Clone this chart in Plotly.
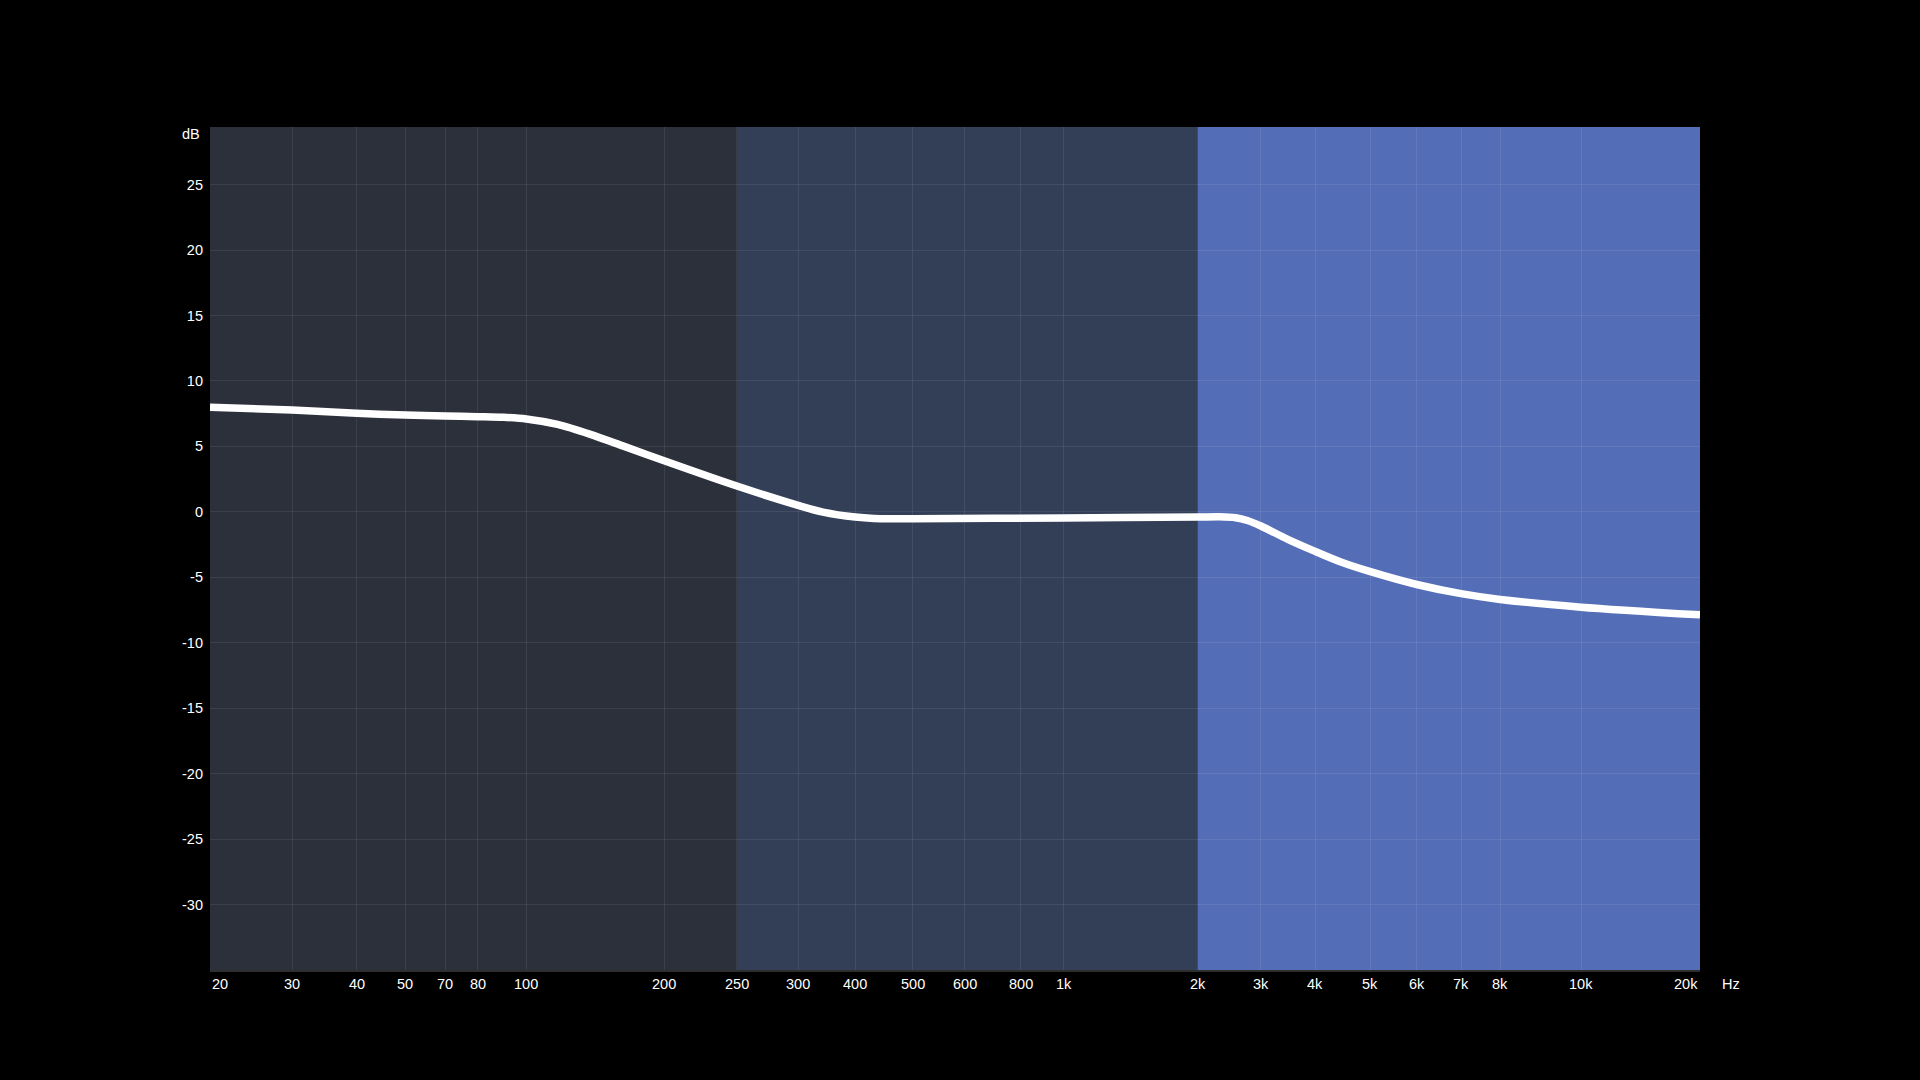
import numpy as np
import plotly.graph_objects as go

# frequency axis: tick frequencies, their labels and where the chart puts them
# (the source axis is a hand-tuned log-like scale, not a pure log scale)
TICK_FREQS = [20, 30, 40, 50, 70, 80, 100, 200, 250, 300, 400, 500, 600, 800,
              1000, 2000, 3000, 4000, 5000, 6000, 7000, 8000, 10000, 20000]
TICK_LABELS = ["20", "30", "40", "50", "70", "80", "100", "200", "250", "300",
               "400", "500", "600", "800", "1k", "2k", "3k", "4k", "5k", "6k",
               "7k", "8k", "10k", "20k"]
AXIS_POS = [0.0, 0.0551, 0.0984, 0.1311, 0.1579, 0.1798, 0.2123, 0.3048,
            0.3536, 0.3947, 0.4331, 0.4718, 0.5064, 0.5440, 0.5730, 0.6630,
            0.7053, 0.7417, 0.7788, 0.8099, 0.8396, 0.8659, 0.9202, 1.0]

# response curve
FREQ = [20, 30, 40, 50, 70, 80, 90, 100, 117, 138, 163, 200, 250,
        300, 340, 400, 430, 500, 1000, 2000, 2300, 2550, 2750, 3000, 3460,
        4000, 4450, 5000, 6000, 7000, 8000, 10000, 20000]
GAIN_DB = [8.0, 7.78, 7.53, 7.4, 7.32, 7.27, 7.22, 7.1, 6.68, 5.92, 5.02,
           3.9, 1.97, 0.5, -0.02, -0.4, -0.5, -0.52, -0.47, -0.4, -0.38,
           -0.45, -0.66, -1.08, -2.1, -3.02, -3.85, -4.57, -5.55, -6.25,
           -6.69, -7.28, -7.87]

# frequency bands (low / mid / high)
BAND_EDGES = [(20, 250), (250, 2000), (2000, 20000)]
BAND_COLORS = ["#2c303a", "#333f57", "#546db7"]

Y_TICKS = [25, 20, 15, 10, 5, 0, -5, -10, -15, -20, -25, -30]
Y_RANGE = [-35, 29.4]


def warp(freqs):
    return np.interp(np.log10(freqs), np.log10(TICK_FREQS), AXIS_POS)


fig = go.Figure()

for (f0, f1), color in zip(BAND_EDGES, BAND_COLORS):
    fig.add_shape(
        type="rect",
        x0=float(warp(f0)), x1=float(warp(f1)),
        y0=0, y1=1, yref="paper",
        fillcolor=color, line_width=0, layer="below",
    )

fig.add_trace(
    go.Scatter(
        x=warp(FREQ),
        y=GAIN_DB,
        mode="lines",
        line={"color": "white", "width": 7.5, "shape": "spline", "smoothing": 0.8},
        hoverinfo="skip",
        showlegend=False,
    )
)

label_font = {"family": "Liberation Sans, Arial, sans-serif", "size": 14.5, "color": "white"}

last = len(TICK_LABELS) - 1
for i, (pos, label) in enumerate(zip(warp(TICK_FREQS), TICK_LABELS)):
    anchor = "left" if i == 0 else ("right" if i == last else "center")
    fig.add_annotation(
        x=float(pos), y=0, yref="paper",
        text=label, showarrow=False,
        xanchor=anchor, yanchor="top", yshift=-4,
        font=label_font,
    )

fig.add_annotation(
    x=1, y=0, xref="paper", yref="paper", text="Hz", showarrow=False,
    xanchor="left", yanchor="top", xshift=20, yshift=-4, font=label_font,
)
fig.add_annotation(
    x=0, y=1, xref="paper", yref="paper", text="dB", showarrow=False,
    xanchor="right", yanchor="top", xshift=-8, yshift=3, font=label_font,
)

fig.update_layout(
    width=1920,
    height=1080,
    paper_bgcolor="black",
    plot_bgcolor="black",
    margin={"l": 210, "r": 220, "t": 127, "b": 110},
    showlegend=False,
    xaxis={
        "range": [0, 1],
        "tickvals": list(warp(TICK_FREQS)),
        "showticklabels": False,
        "showgrid": True,
        "gridcolor": "rgba(255,255,255,0.08)",
        "gridwidth": 1,
        "zeroline": False,
        "showline": True,
        "linecolor": "rgba(255,255,255,0.18)",
        "linewidth": 2,
        "ticks": "",
        "fixedrange": True,
    },
    yaxis={
        "range": Y_RANGE,
        "tickvals": Y_TICKS,
        "ticktext": [str(v) for v in Y_TICKS],
        "tickfont": label_font,
        "showgrid": True,
        "gridcolor": "rgba(255,255,255,0.08)",
        "gridwidth": 1,
        "zeroline": False,
        "ticks": "",
        "ticklabelstandoff": 6,
        "fixedrange": True,
    },
)

fig.write_html(
    "out.html",
    config={"displayModeBar": False},
    post_script="document.body.style.margin='0';document.body.style.background='black';",
)
